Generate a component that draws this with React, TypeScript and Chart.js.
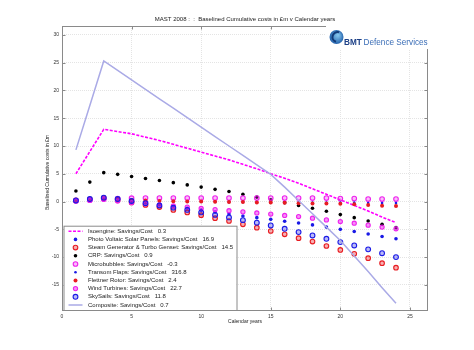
import React, { useEffect, useRef } from 'react';
import { Chart, registerables } from 'chart.js';

Chart.register(...registerables);

// ---------------- data ----------------
const years = [1, 2, 3, 4, 5, 6, 7, 8, 9, 10, 11, 12, 13, 14, 15, 16, 17, 18, 19, 20, 21, 22, 23, 24];
const xTicks = [0, 5, 10, 15, 20, 25];
const yTicks = [-15, -10, -5, 0, 5, 10, 15, 20, 25, 30];

const isoengine = [5.0, 9.0, 13.0, 12.6, 12.2, 11.6, 11.0, 10.3, 9.6, 8.9, 8.2, 7.5, 6.7, 5.9, 5.0, 4.2, 3.3, 2.3, 1.3, 0.3, -0.7, -1.7, -2.8, -3.8];
const photoVoltaic = [0.2, 0.4, 0.55, 0.35, 0.05, -0.25, -0.55, -0.9, -1.2, -1.55, -1.9, -2.25, -2.6, -2.9, -3.2, -3.55, -3.85, -4.2, -4.6, -5.0, -5.4, -5.85, -6.3, -6.7];
const steamGenerator = [0.2, 0.4, 0.6, 0.3, -0.15, -0.6, -1.0, -1.5, -1.95, -2.45, -3.0, -3.5, -4.1, -4.7, -5.3, -5.9, -6.6, -7.2, -8.0, -8.7, -9.4, -10.2, -11.1, -11.9];
const crp = [1.9, 3.5, 5.2, 4.9, 4.5, 4.15, 3.8, 3.4, 3.0, 2.6, 2.2, 1.8, 1.3, 0.8, 0.3, -0.2, -0.7, -1.2, -1.75, -2.35, -2.9, -3.5, -4.1, -4.7];
const microbubbles = [0.15, 0.3, 0.45, 0.55, 0.6, 0.62, 0.62, 0.62, 0.62, 0.62, 0.62, 0.62, 0.62, 0.62, 0.62, 0.62, 0.62, 0.62, 0.62, 0.55, 0.55, 0.45, 0.45, 0.45];
const transomFlaps = [0.2, 0.3, 0.4, 0.3, 0.15, 0.1, 0.05, 0.0, 0.0, -0.05, -0.05, -0.1, -0.1, -0.1, -0.15, -0.15, -0.15, -0.2, -0.2, -0.2, -0.2, -0.25, -0.25, -0.25];
const flettnerRotor = [0.1, 0.3, 0.5, 0.4, 0.3, 0.2, 0.1, 0.05, 0.0, 0.0, -0.05, -0.07, -0.1, -0.15, -0.15, -0.2, -0.3, -0.35, -0.35, -0.4, -0.5, -0.6, -0.75, -0.8];
const windTurbines = [0.1, 0.2, 0.4, 0.1, -0.2, -0.4, -0.6, -0.8, -1.0, -1.25, -1.45, -1.65, -1.85, -2.05, -2.25, -2.5, -2.7, -3.0, -3.3, -3.6, -3.9, -4.25, -4.6, -4.9];
const skySails = [0.2, 0.45, 0.7, 0.45, 0.1, -0.3, -0.7, -1.1, -1.5, -1.95, -2.4, -2.85, -3.35, -3.8, -4.3, -4.9, -5.5, -6.1, -6.7, -7.3, -7.9, -8.6, -9.3, -10.0];
const composite = [9.3, 17.3, 25.3, 23.6, 21.9, 20.2, 18.5, 16.8, 15.1, 13.4, 11.7, 10.0, 8.3, 6.6, 4.9, 2.6, 0.2, -2.2, -4.6, -7.0, -9.8, -12.6, -15.5, -18.3];

const seriesNames = [
  'Isoengine', 'Photo Voltaic Solar Panels', 'Steam Generator & Turbo Genset', 'CRP', 'Microbubbles',
  'Transom Flaps', 'Flettner Rotor', 'Wind Turbines', 'SkySails', 'Composite',
];
const savingsCost = ['0.3', '16.9', '14.5', '0.9', '-0.3', '316.8', '2.4', '22.7', '11.8', '0.7'];
const seriesValues = [isoengine, photoVoltaic, steamGenerator, crp, microbubbles, transomFlaps, flettnerRotor, windTurbines, skySails, composite];

const titleText = 'MAST 2008 :  :  Baselined Cumulative costs in £m v Calendar years';
const xTitle = 'Calendar years';
const yTitle = 'Baselined Cumulative costs in £m';

// ---------------- styles ----------------
const RED = '#e81c22';
const BLUE = '#1a1ae6';
const MAG = '#ee22ee';
type Sty = { kind: 'line' | 'dot' | 'ring'; color: string; r?: number; dash?: number[]; width?: number; fill?: string };
const styles: Sty[] = [
  { kind: 'line', color: '#ff00ff', dash: [3, 1.5], width: 1.6 },
  { kind: 'dot', color: BLUE, r: 1.8 },
  { kind: 'ring', color: RED, r: 2.3, fill: 'rgba(232,28,34,0.35)' },
  { kind: 'dot', color: '#000000', r: 1.8 },
  { kind: 'ring', color: MAG, r: 2.3, fill: 'rgba(238,34,238,0.3)' },
  { kind: 'dot', color: BLUE, r: 1.3 },
  { kind: 'dot', color: RED, r: 2.0 },
  { kind: 'ring', color: MAG, r: 2.1, fill: 'rgba(238,34,238,0.5)' },
  { kind: 'ring', color: BLUE, r: 2.4, fill: 'rgba(26,26,230,0.3)' },
  { kind: 'line', color: '#aaaae6', width: 1.5 },
];

const FONT = '"Liberation Sans", Arial, Helvetica, sans-serif';

function drawMarker(ctx: CanvasRenderingContext2D, s: Sty, x: number, y: number) {
  ctx.save();
  ctx.beginPath();
  ctx.arc(x, y, s.r || 2, 0, Math.PI * 2);
  if (s.kind === 'dot') {
    ctx.fillStyle = s.color;
    ctx.fill();
  } else {
    ctx.fillStyle = s.fill || 'transparent';
    ctx.fill();
    ctx.lineWidth = 1.1;
    ctx.strokeStyle = s.color;
    ctx.stroke();
  }
  ctx.restore();
}

const decorPlugin = {
  id: 'decor',
  afterDraw(chart: any) {
    const { ctx, chartArea: ca, scales } = chart;
    const xs = scales.x;
    const ys = scales.y;
    ctx.save();
    // axis box
    ctx.strokeStyle = '#8a8a8a';
    ctx.lineWidth = 1;
    ctx.strokeRect(ca.left + 0.5, ca.top + 0.5, ca.right - ca.left - 1, ca.bottom - ca.top - 1);
    // inward ticks
    const tl = 3.5;
    ctx.beginPath();
    xTicks.forEach((v) => {
      const px = Math.round(xs.getPixelForValue(v)) + 0.5;
      ctx.moveTo(px, ca.bottom);
      ctx.lineTo(px, ca.bottom - tl);
      ctx.moveTo(px, ca.top);
      ctx.lineTo(px, ca.top + tl);
    });
    yTicks.forEach((v) => {
      const py = Math.round(ys.getPixelForValue(v)) + 0.5;
      ctx.moveTo(ca.left, py);
      ctx.lineTo(ca.left + tl, py);
      ctx.moveTo(ca.right, py);
      ctx.lineTo(ca.right - tl, py);
    });
    ctx.stroke();

    // legend box
    const lx = ca.left + 1.5;
    const ly = 225.7;
    const lw = 173;
    const lh = ca.bottom - 1 - ly;
    ctx.fillStyle = '#ffffff';
    ctx.fillRect(lx, ly, lw, lh);
    ctx.strokeStyle = '#8a8a8a';
    ctx.strokeRect(lx + 0.5, ly + 0.5, lw, lh);
    ctx.font = '6px ' + FONT;
    ctx.textBaseline = 'middle';
    ctx.textAlign = 'left';
    seriesNames.forEach((name, i) => {
      const cy = ly + 5.5 + i * 8.2;
      const s = styles[i];
      if (s.kind === 'line') {
        ctx.save();
        ctx.strokeStyle = s.color;
        ctx.lineWidth = s.width || 1;
        ctx.setLineDash(s.dash || []);
        ctx.beginPath();
        ctx.moveTo(lx + 5, cy);
        ctx.lineTo(lx + 19, cy);
        ctx.stroke();
        ctx.restore();
      } else {
        drawMarker(ctx, s, lx + 12, cy);
      }
      ctx.fillStyle = '#222';
      ctx.fillText(name + ': Savings/Cost   ' + savingsCost[i], lx + 24.5, cy);
    });

    // title and axis titles
    ctx.fillStyle = '#222';
    ctx.textAlign = 'center';
    ctx.font = '6px ' + FONT;
    ctx.fillText(titleText, (ca.left + ca.right) / 2, 19.8);
    ctx.font = '5px ' + FONT;
    ctx.fillText(xTitle, (ca.left + ca.right) / 2, 321.7);
    ctx.save();
    ctx.translate(47.7, (ca.top + ca.bottom) / 2 + 4);
    ctx.rotate(-Math.PI / 2);
    ctx.fillText(yTitle, 0, 0);
    ctx.restore();

    // logo
    ctx.fillStyle = '#ffffff';
    ctx.fillRect(326, 21, 148, 28);
    const gx = 336.5;
    const gy = 37;
    const grad = ctx.createRadialGradient(gx + 1.5, gy - 2, 1, gx, gy, 7.5);
    grad.addColorStop(0, '#7fc0ea');
    grad.addColorStop(1, '#1d5ca8');
    ctx.beginPath();
    ctx.arc(gx, gy, 7, 0, Math.PI * 2);
    ctx.fillStyle = grad;
    ctx.fill();
    ctx.beginPath();
    ctx.arc(gx + 1, gy, 5, Math.PI * 0.6, Math.PI * 1.6);
    ctx.strokeStyle = '#123a78';
    ctx.lineWidth = 2;
    ctx.stroke();
    ctx.textAlign = 'left';
    ctx.textBaseline = 'alphabetic';
    ctx.font = 'bold 8.2px ' + FONT;
    ctx.fillStyle = '#1c3f86';
    ctx.fillText('BMT', 344, 44.5);
    const bw = ctx.measureText('BMT').width;
    ctx.font = '8.2px ' + FONT;
    ctx.fillStyle = '#3a6db6';
    ctx.fillText('Defence Services', 344 + bw + 1.8, 44.5);
    ctx.restore();
  },
};

export default function App() {
  const ref = useRef<HTMLCanvasElement | null>(null);
  useEffect(() => {
    document.body.style.margin = '0';
    const canvas = ref.current;
    if (!canvas) return;
    const n = seriesNames.length;
    const datasets = seriesValues.map((vals, i) => {
      const s = styles[i];
      const data = years.map((x, k) => ({ x, y: vals[k] }));
      if (s.kind === 'line') {
        return {
          label: seriesNames[i],
          data,
          showLine: true,
          borderColor: s.color,
          borderWidth: s.width,
          borderDash: s.dash || [],
          pointRadius: 0,
          fill: false,
          order: n - i,
        };
      }
      return {
        label: seriesNames[i],
        data,
        showLine: false,
        pointRadius: s.r,
        pointBackgroundColor: s.kind === 'dot' ? s.color : s.fill,
        pointBorderColor: s.color,
        pointBorderWidth: s.kind === 'dot' ? 0 : 1.1,
        order: n - i,
      };
    });
    const chart = new Chart(canvas, {
      type: 'scatter',
      data: { datasets: datasets as any },
      options: {
        animation: false,
        responsive: false,
        events: [],
        layout: { padding: { left: 0, right: 46, top: 26, bottom: 0 } },
        plugins: { legend: { display: false }, tooltip: { enabled: false }, title: { display: false } },
        scales: {
          x: {
            type: 'linear',
            min: 0,
            max: 26.3,
            afterFit: (s: any) => { s.height = 39; },
            afterBuildTicks: (s: any) => { s.ticks = xTicks.map((v) => ({ value: v })); },
            grid: { color: '#e4e4e4', drawTicks: false, lineWidth: 1 },
            border: { display: false, dash: [1, 1] },
            ticks: { autoSkip: false, maxRotation: 0, padding: 3, color: '#333', font: { size: 5, family: FONT } },
          },
          y: {
            type: 'linear',
            min: -19.7,
            max: 31.6,
            afterFit: (s: any) => { s.width = 62; },
            afterBuildTicks: (s: any) => { s.ticks = yTicks.map((v) => ({ value: v })); },
            grid: { color: '#e4e4e4', drawTicks: false, lineWidth: 1 },
            border: { display: false, dash: [1, 1] },
            ticks: { autoSkip: false, padding: 3, color: '#333', font: { size: 5, family: FONT } },
          },
        },
      },
      plugins: [decorPlugin],
    });
    return () => chart.destroy();
  }, []);
  return (
    <div style={{ width: 474, height: 350, background: '#fff' }}>
      <canvas ref={ref} width={474} height={350} style={{ display: 'block' }} />
    </div>
  );
}
